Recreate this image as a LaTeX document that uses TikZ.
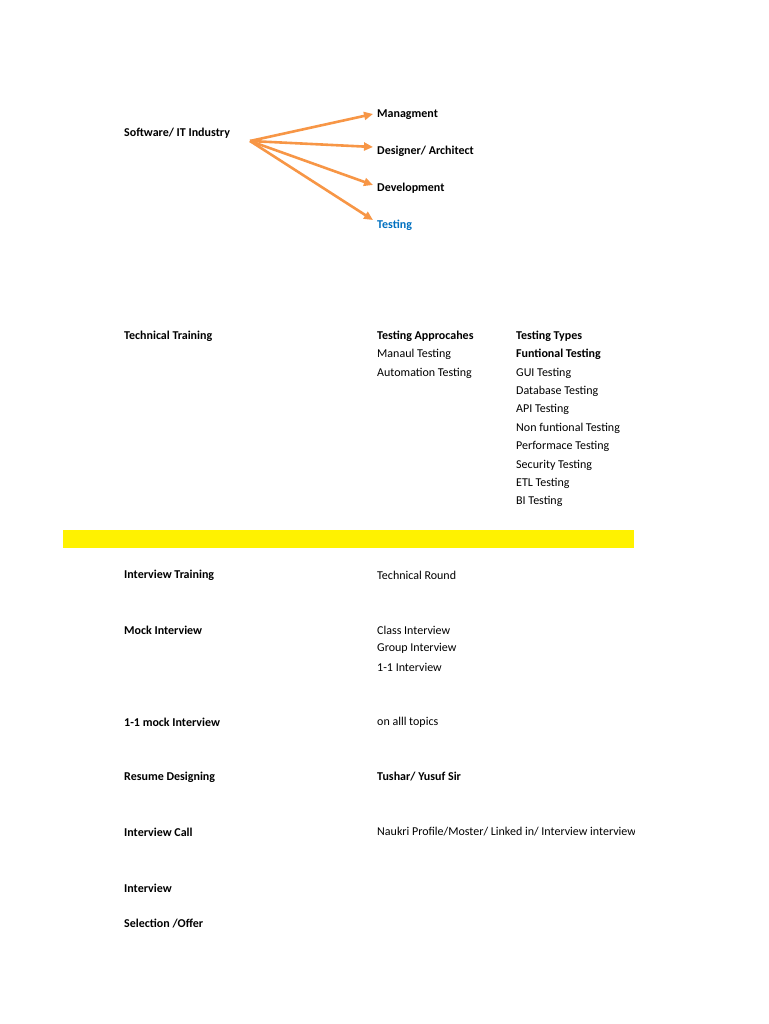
\documentclass[tikz,border=0pt]{standalone}
\usepackage{fontspec}
\setmainfont{Carlito}
\usetikzlibrary{arrows.meta}
\definecolor{arr}{HTML}{F79646}
\definecolor{blu}{HTML}{0070C0}
\begin{document}
\begin{tikzpicture}[x=1pt,y=-1pt,
  t/.style={anchor=west,inner sep=0pt,font=\fontsize{12}{14}\selectfont},
  b/.style={t,font=\fontsize{12}{14}\selectfont\bfseries},
  oarr/.style={draw=arr,line width=2.6pt,-{Triangle[length=9pt,width=8pt]}}]
\useasboundingbox (0,0) rectangle (768,1024);
\fill[yellow] (63,530) rectangle (634,548);
\node[b] (sw) at (124,133) {Software/ IT Industry};
\node[b] (m) at (377,115) {Managment};
\node[b] (d) at (377,151) {Designer/ Architect};
\node[b] (dev) at (377,188) {Development};
\node[b,text=blu] (te) at (377,225) {Testing};
\coordinate (o) at (250,141);
\draw[oarr] (o) -- ([xshift=-4pt,yshift=1pt]m.west);
\draw[oarr] (o) -- ([xshift=-4pt,yshift=4pt]d.west);
\draw[oarr] (o) -- ([xshift=-4pt,yshift=3pt]dev.west);
\draw[oarr] (o) -- ([xshift=-4pt,yshift=5pt]te.west);
\node[b] (tt) at (124,336) {Technical Training};
\node[b] (ta) at (377,336) {Testing Approcahes};
\node[t] (mt) at (377,354) {Manaul Testing};
\node[t] (at) at (377,373) {Automation Testing};
\node[b] (ty) at (516,336) {Testing Types};
\node[b] (ft) at (516,354) {Funtional Testing};
\node[t] (g) at (516,373) {GUI Testing};
\node[t] (db) at (516,391) {Database Testing};
\node[t] (api) at (516,409) {API Testing};
\node[t] (nf) at (516,428) {Non funtional Testing};
\node[t] (pf) at (516,446) {Performace Testing};
\node[t] (sec) at (516,465) {Security Testing};
\node[t] (etl) at (516,483) {ETL Testing};
\node[t] (bi) at (516,501) {BI Testing};
\node[b] (it) at (124,575) {Interview Training};
\node[t] (tr) at (377,575) {Technical Round};
\node[b] (mi) at (124,630) {Mock Interview};
\node[t] (ci) at (377,630) {Class Interview};
\node[t] (gi) at (377,648) {Group Interview};
\node[t] (oi) at (377,667) {1-1 Interview};
\node[b] (omi) at (124,722) {1-1 mock Interview};
\node[t] (oat) at (377,722) {on alll topics};
\node[b] (rd) at (124,777) {Resume Designing};
\node[b] (ts) at (377,777) {Tushar/ Yusuf Sir};
\node[b] (ic) at (124,832) {Interview Call};
\begin{scope}
\clip (370,820) rectangle (634,845);
\node[t] (nk) at (377,832) {Naukri Profile/Moster/ Linked in/ Interview interview};
\end{scope}
\node[b] (iv) at (124,888) {Interview};
\node[b] (so) at (124,924) {Selection /Offer};
\end{tikzpicture}
\end{document}
